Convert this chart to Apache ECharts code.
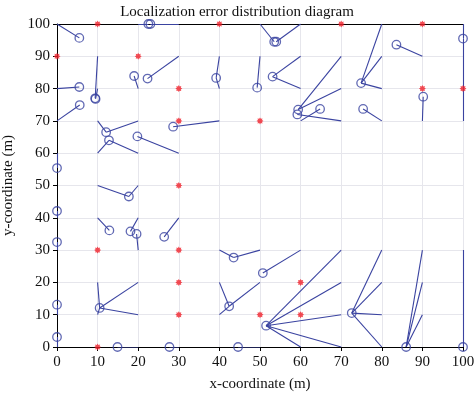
<!DOCTYPE html>
<html><head><meta charset="utf-8">
<script src="https://cdn.jsdelivr.net/npm/echarts@6/dist/echarts.min.js"></script>
<style>html,body{margin:0;padding:0;background:#fff}#c{width:474px;height:395px}</style>
</head><body><div id="c"></div>
<script>
// Anchor nodes (red stars)
const anchorX = [10, 40, 70, 90, 0, 20, 30, 90, 100, 30, 50, 30, 10, 30, 30, 60, 30, 50, 60, 10];
const anchorY = [100, 100, 100, 100, 90, 90, 80, 80, 80, 70, 70, 50, 30, 30, 20, 20, 10, 10, 10, 0];

// Unknown nodes: true positions and estimated positions (blue circles)
const trueX = [0, 0, 0, 10, 10, 20, 30, 20, 30, 40, 40, 10, 20, 10, 20, 30, 40, 0, 10, 20, 0, 0, 10, 20, 20, 30, 40, 50,
  10, 20, 20, 10, 0, 0, 20, 30, 40, 40, 50, 50, 60, 70, 70, 70, 60, 70, 80, 80, 80, 80, 90, 90, 90, 100,
  50, 60, 50, 60, 60, 70, 70, 70, 60, 80, 80, 80, 80, 90, 90, 100, 100];
const trueY = [100, 80, 70, 90, 80, 80, 90, 100, 100, 90, 80, 70, 70, 60, 60, 60, 70, 60, 50, 50, 40, 30, 40, 40, 30, 40, 30, 30,
  20, 20, 10, 10, 10, 0, 0, 0, 20, 10, 20, 0, 30, 30, 20, 10, 0, 0, 30, 20, 10, 0, 30, 20, 10, 30,
  100, 100, 90, 90, 80, 90, 80, 70, 70, 100, 90, 80, 70, 90, 70, 100, 70];
const estX = [5.5, 5.5, 5.6, 9.4, 9.5, 19, 22.3, 22.5, 23, 39.2, 39.2, 12.1, 12.1, 12.8, 12.8, 19.8, 28.6, 0, 17.7, 17.7, 0, 0, 12.9, 18.1, 19.6, 26.4, 43.5, 43.5,
  10.5, 10.5, 10.5, 10.5, 0, 0, 14.9, 27.7, 42.4, 42.4, 42.4, 44.6, 50.7, 51.5, 51.5, 51.5, 51.5, 51.5, 72.6, 72.6, 72.6, 72.6, 86, 86, 86, 100,
  53.5, 54, 49.3, 53.1, 53.1, 59.4, 59.4, 59.2, 64.8, 74.9, 74.9, 74.9, 75.4, 83.6, 90.2, 100, 100];
const estY = [95.7, 80.5, 74.9, 77, 76.8, 83.9, 83.1, 100, 100, 83.3, 83.3, 66.5, 66.5, 64, 64, 65.2, 68.2, 55.4, 46.6, 46.6, 42.1, 32.5, 36.1, 35.8, 35, 34.1, 27.7, 27.7,
  12.1, 12.1, 12.1, 12.1, 13.1, 3.1, 0, 0, 12.6, 12.6, 12.6, 0, 22.9, 6.6, 6.6, 6.6, 6.6, 6.6, 10.5, 10.5, 10.5, 10.5, 0, 0, 0, 0,
  94.5, 94.5, 80.3, 83.7, 83.7, 73.5, 73.5, 72, 73.7, 81.7, 81.7, 81.7, 73.7, 93.6, 77.5, 95.5, 95.5];

const ticks = [0, 10, 20, 30, 40, 50, 60, 70, 80, 90, 100];

const BLUE = '#3a43a0';
const FONT = "'Liberation Serif', 'DejaVu Serif', serif";
const starPath = 'path://M0,-10 L2.4,-5.8 L7.1,-7.1 L5.8,-2.4 L10,0 L5.8,2.4 L7.1,7.1 L2.4,5.8 L0,10 L-2.4,5.8 L-7.1,7.1 L-5.8,2.4 L-10,0 L-5.8,-2.4 L-7.1,-7.1 L-2.4,-5.8 Z';

const segs = trueX.map((tx, i) => ({ coords: [[tx, trueY[i]], [estX[i], estY[i]]] }));
const seen = new Set();
const estPts = [];
estX.forEach((x, i) => { const k = x + ',' + estY[i]; if (!seen.has(k)) { seen.add(k); estPts.push([x, estY[i]]); } });
const anchorPts = anchorX.map((x, i) => [x, anchorY[i]]);

const chart = echarts.init(document.getElementById('c'), null, { renderer: 'canvas' });
const axisCommon = {
  type: 'value', min: 0, max: 100, interval: 10,
  axisLine: { show: true, onZero: false, lineStyle: { color: '#000', width: 1 } },
  axisTick: { show: true, inside: false, length: 4, lineStyle: { color: '#000' } },
  axisLabel: { color: '#111', fontFamily: FONT, fontSize: 15 },
  splitLine: { show: true, lineStyle: { color: '#e6e6ec', width: 1 } },
  nameTextStyle: { color: '#111', fontFamily: FONT, fontSize: 15 }
};
chart.setOption({
  animation: false,
  backgroundColor: '#fff',
  title: {
    text: 'Localization error distribution diagram', left: 'center', top: 0,
    textStyle: { fontFamily: FONT, fontSize: 15, fontWeight: 'normal', color: '#111' }
  },
  grid: { left: 57, right: 11, top: 24, bottom: 48, containLabel: false, outerBoundsMode: 'none' },
  xAxis: [
    Object.assign({}, axisCommon, {
      position: 'bottom', name: 'x-coordinate (m)', nameLocation: 'middle', nameGap: 30,
      axisLabel: Object.assign({}, axisCommon.axisLabel, { margin: 8 })
    }),
    { type: 'value', min: 0, max: 100, position: 'top', axisLine: { show: true, onZero: false, lineStyle: { color: '#000' } },
      axisTick: { show: false }, axisLabel: { show: false }, splitLine: { show: false } }
  ],
  yAxis: Object.assign({}, axisCommon, {
    name: 'y-coordinate (m)', nameLocation: 'middle', nameGap: 41,
    axisLabel: Object.assign({}, axisCommon.axisLabel, { margin: 7 })
  }),
  series: [
    {
      type: 'lines', coordinateSystem: 'cartesian2d', xAxisIndex: 0, yAxisIndex: 0,
      data: segs, silent: true,
      lineStyle: { color: BLUE, width: 1.1, opacity: 1 }, z: 3
    },
    {
      type: 'scatter', data: estPts, symbol: 'circle', symbolSize: 8.5, clip: false,
      itemStyle: { color: 'rgba(0,0,0,0)', borderColor: BLUE, borderWidth: 1.3 }, z: 4
    },
    {
      type: 'scatter', data: anchorPts, symbol: starPath, symbolSize: 7, clip: false,
      itemStyle: { color: '#f0202a' }, z: 5
    }
  ]
});
</script></body></html>
